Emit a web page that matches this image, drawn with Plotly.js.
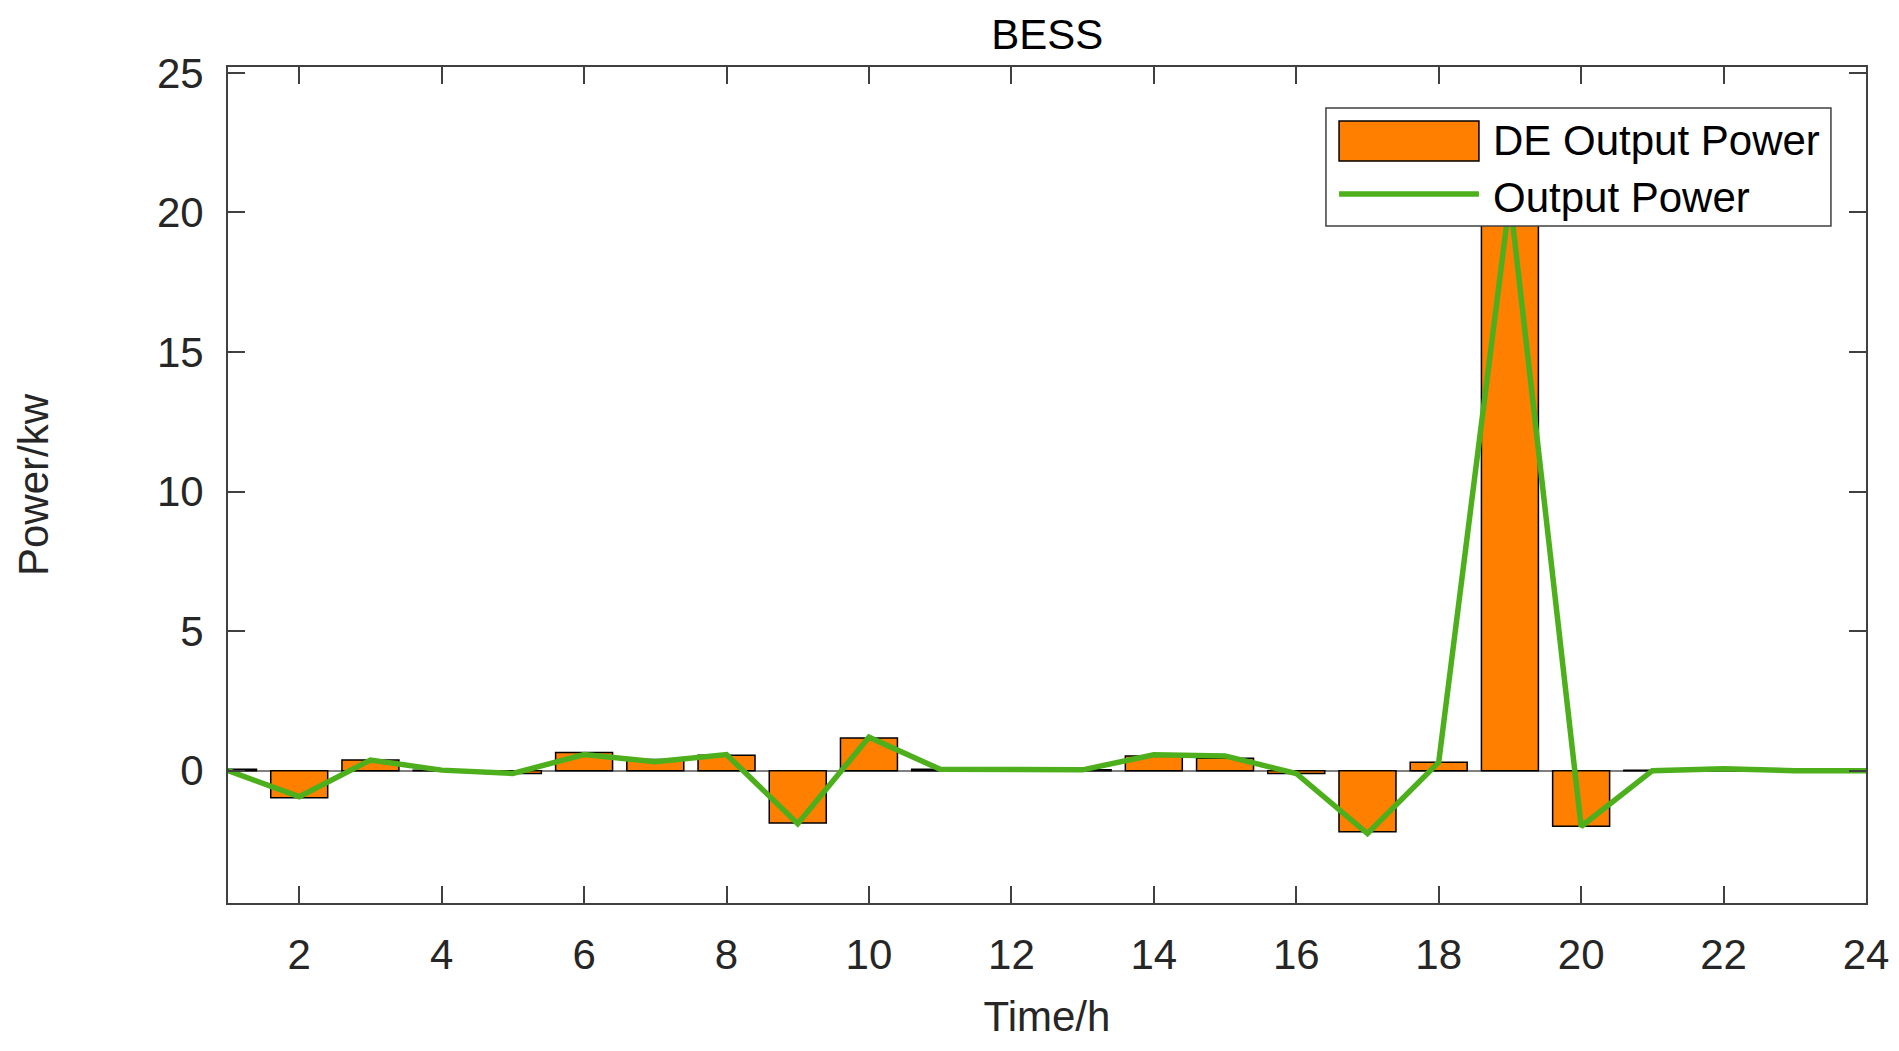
<!DOCTYPE html>
<html>
<head>
<meta charset="utf-8">
<script src="https://cdn.plot.ly/plotly-3.0.1.min.js"></script>
<style>html,body{margin:0;padding:0;background:#fff;}#chart{width:1899px;height:1051px;}</style>
</head>
<body>
<div id="chart"></div>
<script>
const hours = [1,2,3,4,5,6,7,8,9,10,11,12,13,14,15,16,17,18,19,20,21,22,23,24];
const deOutputPower = [0.05,-0.97,0.38,0.02,-0.10,0.65,0.40,0.55,-1.87,1.17,0.05,0.02,0.03,0.53,0.45,-0.10,-2.19,0.30,20.5,-1.99,0.02,0.05,0.02,0.05];
const outputPower = [0.00,-0.93,0.38,0.02,-0.10,0.58,0.32,0.58,-1.90,1.20,0.05,0.03,0.03,0.57,0.53,-0.10,-2.25,0.30,20.5,-2.00,0.00,0.07,0.00,0.00];
const xTicks = [2,4,6,8,10,12,14,16,18,20,22,24];
const yTicks = [0,5,10,15,20,25];
const seriesNames = ['DE Output Power','Output Power'];

const FONT = 'Liberation Sans, Arial, Helvetica, sans-serif';
const ORANGE = '#FF8000';
const GREEN = '#4DAF1C';

const traces = [
  {type:'bar', x:hours, y:deOutputPower, name:seriesNames[0], width:0.8,
   marker:{color:ORANGE, line:{color:'#000', width:1.5}}, showlegend:false},
  {type:'scatter', mode:'lines', x:hours, y:outputPower, name:seriesNames[1],
   line:{color:GREEN, width:5.5}, showlegend:false}
];

// legend drawn in paper coordinates
const lg = {x0:0.6703, x1:0.9786, y0:0.8098, y1:0.951};
const shapes = [
  {type:'rect', xref:'paper', yref:'paper', x0:lg.x0, x1:lg.x1, y0:lg.y0, y1:lg.y1,
   fillcolor:'#fff', line:{color:'#404040', width:1.5}, layer:'above'},
  {type:'rect', xref:'paper', yref:'paper', x0:0.6783, x1:0.7637, y0:0.8876, y1:0.9354,
   fillcolor:ORANGE, line:{color:'#000', width:1.5}, layer:'above'},
  {type:'line', xref:'paper', yref:'paper', x0:0.6783, x1:0.7637, y0:0.8481, y1:0.8481,
   line:{color:GREEN, width:5.5}, layer:'above'}
];
const annotations = [
  {xref:'paper', yref:'paper', x:0.771, y:0.9115, xanchor:'left', yanchor:'middle', showarrow:false,
   text:seriesNames[0], font:{family:FONT, size:42, color:'#000'}},
  {xref:'paper', yref:'paper', x:0.771, y:0.8440, xanchor:'left', yanchor:'middle', showarrow:false,
   text:seriesNames[1], font:{family:FONT, size:42, color:'#000'}}
];

const layout = {
  width:1899, height:1051,
  margin:{l:228, r:33, t:67, b:148, pad:0},
  paper_bgcolor:'#fff', plot_bgcolor:'#fff',
  font:{family:FONT, size:42, color:'#262626'},
  title:{text:'BESS', font:{family:FONT, size:42, color:'#000'}, x:0.5515, xanchor:'center', y:0.967, yanchor:'middle', yref:'container'},
  xaxis:{range:[1,24], tickvals:xTicks, ticktext:xTicks.map(String), ticks:'inside', ticklen:17, tickwidth:2, tickcolor:'#404040',
         showline:true, linecolor:'#404040', linewidth:2, mirror:'ticks', showgrid:false, zeroline:false,
         tickfont:{family:FONT, size:42, color:'#262626'}, ticklabelstandoff:14,
         title:{text:'Time/h', font:{family:FONT, size:42, color:'#262626'}, standoff:24}},
  yaxis:{range:[-4.74,25.21], tickvals:yTicks, ticktext:yTicks.map(String), ticks:'inside', ticklen:17, tickwidth:2, tickcolor:'#404040',
         showline:true, linecolor:'#404040', linewidth:2, mirror:'ticks', showgrid:false,
         zeroline:true, zerolinecolor:'#808080', zerolinewidth:2,
         tickfont:{family:FONT, size:42, color:'#262626'}, ticklabelstandoff:14,
         title:{text:'Power/kw', font:{family:FONT, size:42, color:'#262626'}, standoff:95}},
  bargap:0.2,
  shapes:shapes, annotations:annotations
};

Plotly.newPlot('chart', traces, layout, {staticPlot:true, displayModeBar:false});
</script>
</body>
</html>
